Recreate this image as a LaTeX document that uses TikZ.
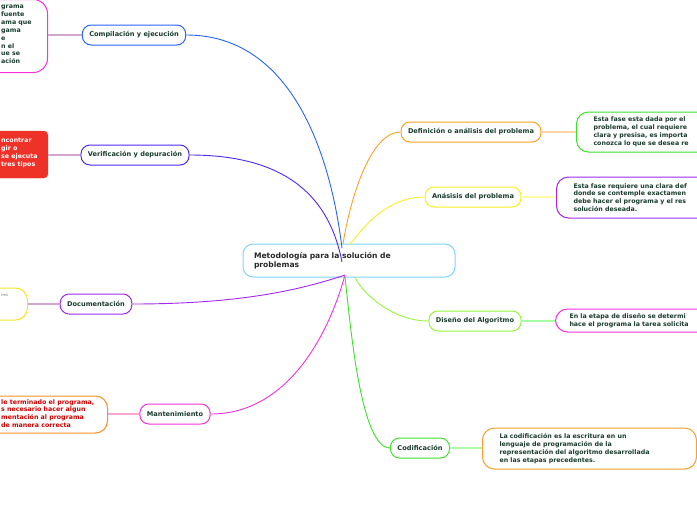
\documentclass[tikz,border=0pt]{standalone}
\usepackage{fontspec}
\setmainfont{DejaVu Sans}
\definecolor{cBlue}{RGB}{40,100,245}
\definecolor{cIndigo}{RGB}{80,40,240}
\definecolor{cPurple}{RGB}{160,40,240}
\definecolor{cMag}{RGB}{245,50,220}
\definecolor{cOrange}{RGB}{250,160,40}
\definecolor{cYellow}{RGB}{245,240,40}
\definecolor{cLGreen}{RGB}{150,245,60}
\definecolor{cGreen}{RGB}{60,225,40}
\definecolor{cRed}{RGB}{238,50,40}
\definecolor{cTxt}{RGB}{25,60,45}
\begin{document}
\begin{tikzpicture}[x=1pt,y=-1pt,
  br/.style={draw=#1,line width=1pt,rounded corners=9pt,fill=white,font=\bfseries\fontsize{6.6}{7.6}\selectfont,text=cTxt,inner xsep=7pt,minimum height=20pt},
  leaf/.style={draw=#1,line width=1pt,rounded corners=12pt,fill=white,font=\bfseries\fontsize{6.3}{7.9}\selectfont,text=cTxt,align=left,anchor=west},
  ltxt/.style={font=\bfseries\fontsize{6.3}{7.9}\selectfont,text=cTxt,align=left,anchor=west,inner sep=0pt},
  con/.style={draw=#1,line width=0.9pt},
  lcon/.style={draw=#1!35,line width=1.6pt}]
\useasboundingbox (0,0) rectangle (697,520);
\clip (0,0) rectangle (697,520);
% center
\node[draw=blue!35!cyan!50,line width=1pt,rounded corners=10pt,minimum width=212pt,minimum height=33pt,text width=190pt,align=left,font=\bfseries\fontsize{7.6}{8.8}\selectfont,text=black!85] (c) at (349,260.5) {Metodología para la solución de\\problemas};
% branches
\node[br=cBlue] (b1) at (134,35) {Compilación y ejecución};
\node[br=cIndigo] (b2) at (135,155) {Verificación y depuración};
\node[br=cPurple] (b3) at (96,304) {Documentación};
\node[br=cMag] (b4) at (175,414) {Mantenimiento};
\node[br=cOrange] (b5) at (471,132) {Definición o análisis del problema};
\node[br=cYellow] (b6) at (473,197) {Anásisis del problema};
\node[br=cLGreen] (b7) at (475,321) {Diseño del Algoritmo};
\node[br=cGreen] (b8) at (420,448) {Codificación};
% connectors from center
\draw[con=cBlue] (b1.east) .. controls (290,35) and (330,150) .. (342,248);
\draw[con=cIndigo] (b2.east) .. controls (290,155) and (330,200) .. (342,262);
\draw[con=cPurple] (b3.east) .. controls (240,304) and (300,290) .. (345,275);
\draw[con=cMag] (b4.east) .. controls (290,414) and (330,330) .. (345,275);
\draw[con=cOrange] (b5.west) .. controls (370,132) and (350,200) .. (343,244);
\draw[con=cYellow] (b6.west) .. controls (380,197) and (355,240) .. (350,244);
\draw[con=cLGreen] (b7.west) .. controls (390,321) and (360,290) .. (355,277);
\draw[con=cGreen] (b8.west) .. controls (360,448) and (350,320) .. (345,277);
% left leaves (boxes run off the left edge)
\node[draw=cMag,line width=1pt,rounded corners=14pt,fill=white,minimum height=73pt,minimum width=80pt,anchor=east] (l1) at (48,36) {};
\node[ltxt] (t1) at (1,34.5) {grama\\fuente\\ama que\\gama\\e\\n el\\ue se\\ación};
\node[draw=cRed,fill=cRed,rounded corners=4pt,minimum height=47pt,minimum width=70pt,anchor=east] (l2) at (48,154.5) {};
\node[ltxt,text=white] (t2) at (1,153) {ncontrar\\gir o\\se ejecuta\\ tres tipos};
\node[draw=cYellow!90!orange,line width=1pt,rounded corners=12pt,fill=white,minimum height=32pt,minimum width=60pt,anchor=east] (l3) at (28,304) {};
\node[ltxt,font=\fontsize{4}{5}\selectfont,text=gray] (t3) at (1,295.5) {nes};
\node[draw=cOrange!90!red,line width=1pt,rounded corners=12pt,fill=white,minimum height=37pt,minimum width=140pt,anchor=east] (l4) at (108,414.5) {};
\node[ltxt,text=red!80!black] (t4) at (1,413.5) {le terminado el programa,\\s necesario hacer algun\\mentación al programa\\ de manera correcta};
% right leaves
\node[leaf=cGreen,minimum height=40pt,text width=150pt,inner xsep=17pt] (l5) at (576,132) {Esta fase esta dada por el\\problema, el cual requiere\\clara y presisa, es importa\\conozca lo que se desea re};
\node[leaf=cPurple,minimum height=41pt,text width=150pt,inner xsep=17pt] (l6) at (556,197.5) {Esta fase requiere una clara def\\donde se contemple exactamen\\debe hacer el programa y el res\\solución deseada.};
\node[leaf=cMag,minimum height=23pt,text width=150pt,inner xsep=14pt] (l7) at (555,320.5) {En la etapa de diseño se determi\\hace el programa la tarea solicita};
\node[leaf=cOrange,minimum height=41pt,minimum width=210pt,text width=180pt,inner xsep=17pt] (l8) at (482,448.5) {La codificación es la escritura en un\\lenguaje de programación de la\\representación del algoritmo desarrollada\\en las etapas precedentes.};
\coordinate (r8) at (697,448.5);
% leaf connectors
\draw[lcon=violet] (b1.west) -- (l1.east |- b1.west);
\draw[lcon=violet] (b2.west) -- (l2.east |- b2.west);
\draw[lcon=violet] (b3.west) -- (l3.east |- b3.west);
\draw[lcon=magenta] (b4.west) -- (l4.east |- b4.west);
\draw[lcon=orange] (b5.east) -- (l5.west |- b5.east);
\draw[lcon=yellow] (b6.east) -- (l6.west |- b6.east);
\draw[lcon=green] (b7.east) -- (l7.west |- b7.east);
\draw[lcon=green] (b8.east) -- (l8.west |- b8.east);
\draw[lcon=orange] (l8.east) -- (r8);
\end{tikzpicture}
\end{document}
